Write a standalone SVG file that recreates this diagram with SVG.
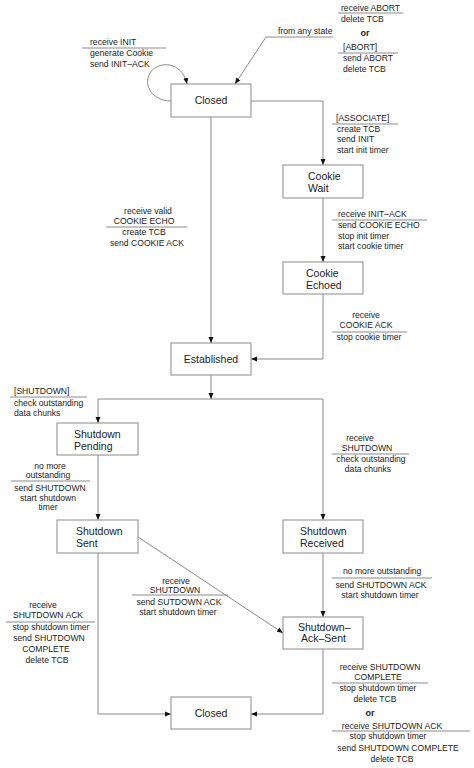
<svg xmlns="http://www.w3.org/2000/svg" width="474" height="768" viewBox="0 0 474 768">
<defs>
<marker id="ah" markerWidth="6" markerHeight="6" refX="6" refY="3" orient="auto" markerUnits="userSpaceOnUse">
<path d="M0,0.5 L6,3 L0,5.5 Z" fill="#111"/>
</marker>
<style>
.box{fill:#fff;stroke:#8a8a8a;stroke-width:1}
.nt{font-family:"Liberation Sans",Arial,sans-serif;font-size:10.5px;fill:#222}
.lb{font-family:"Liberation Sans",Arial,sans-serif;font-size:8.6px;fill:#222}
.c{text-anchor:middle}
.or{font-family:"Liberation Sans",Arial,sans-serif;font-size:9px;font-weight:bold;fill:#222}
.ln{fill:none;stroke:#8a8a8a;stroke-width:1}
.bar{stroke:#8a8a8a;stroke-width:1}
</style>
</defs>
<rect width="474" height="768" fill="#fff"/>

<g id="connectors">
<path class="ln" d="M171,101 C152,101 143,85 150,73 C157,61 182,60 187,84" marker-end="url(#ah)"/>
<path class="ln" d="M333,37 L266,37 L235,84" marker-end="url(#ah)"/>
<path class="ln" d="M251,101 L323,101 L323,165" marker-end="url(#ah)"/>
<path class="ln" d="M211,117 L211,343" marker-end="url(#ah)"/>
<path class="ln" d="M323,198 L323,262" marker-end="url(#ah)"/>
<path class="ln" d="M323,294 L323,359 L251,359" marker-end="url(#ah)"/>
<path class="ln" d="M211,375 L211,399" marker-end="url(#ah)"/>
<path class="ln" d="M98,399 L323,399"/>
<path class="ln" d="M98,399 L98,423" marker-end="url(#ah)"/>
<path class="ln" d="M323,399 L323,520" marker-end="url(#ah)"/>
<path class="ln" d="M98,455 L98,520" marker-end="url(#ah)"/>
<path class="ln" d="M138,537 L283,633" marker-end="url(#ah)"/>
<path class="ln" d="M323,553 L323,617" marker-end="url(#ah)"/>
<path class="ln" d="M98,553 L98,714 L171,714" marker-end="url(#ah)"/>
<path class="ln" d="M323,649 L323,714 L251,714" marker-end="url(#ah)"/>
</g>

<g id="closed">
<rect class="box" x="171" y="84" width="80" height="33"/>
<text class="nt c" x="211" y="104">Closed</text>
</g>
<g id="cookie-wait">
<rect class="box" x="283" y="165" width="80" height="33"/>
<text class="nt" x="308" y="180">Cookie</text>
<text class="nt" x="308" y="192">Wait</text>
</g>
<g id="cookie-echoed">
<rect class="box" x="283" y="262" width="80" height="32"/>
<text class="nt" x="306" y="277">Cookie</text>
<text class="nt" x="306" y="289">Echoed</text>
</g>
<g id="established">
<rect class="box" x="171" y="343" width="80" height="32"/>
<text class="nt c" x="211" y="363">Established</text>
</g>
<g id="shutdown-pending">
<rect class="box" x="57" y="423" width="81" height="32"/>
<text class="nt" x="74" y="438">Shutdown</text>
<text class="nt" x="74" y="450">Pending</text>
</g>
<g id="shutdown-sent">
<rect class="box" x="57" y="520" width="81" height="33"/>
<text class="nt" x="76" y="535">Shutdown</text>
<text class="nt" x="76" y="547">Sent</text>
</g>
<g id="shutdown-received">
<rect class="box" x="283" y="520" width="80" height="33"/>
<text class="nt" x="300" y="535">Shutdown</text>
<text class="nt" x="300" y="547">Received</text>
</g>
<g id="shutdown-ack-sent">
<rect class="box" x="283" y="617" width="80" height="32"/>
<text class="nt" x="298" y="631">Shutdown–</text>
<text class="nt" x="301" y="642">Ack–Sent</text>
</g>
<g id="closed-2">
<rect class="box" x="171" y="697" width="80" height="32"/>
<text class="nt c" x="211" y="717">Closed</text>
</g>

<g id="labels">
<!-- abort -->
<text class="lb" x="341" y="11">receive ABORT</text>
<line class="bar" x1="338" y1="13" x2="403" y2="13"/>
<text class="lb" x="341" y="22">delete TCB</text>
<text class="or c" x="365" y="36">or</text>
<text class="lb" x="343" y="50">[ABORT]</text>
<line class="bar" x1="338" y1="53" x2="398" y2="53"/>
<text class="lb" x="343" y="61">send ABORT</text>
<text class="lb" x="343" y="72">delete TCB</text>
<text class="lb" x="278" y="34">from any state</text>

<!-- receive init -->
<text class="lb" x="90" y="45">receive INIT</text>
<line class="bar" x1="82" y1="48" x2="166" y2="48"/>
<text class="lb" x="90" y="56">generate Cookie</text>
<text class="lb" x="90" y="67">send INIT–ACK</text>

<!-- associate -->
<text class="lb" x="336" y="121">[ASSOCIATE]</text>
<line class="bar" x1="332" y1="124" x2="398" y2="124"/>
<text class="lb" x="337" y="132">create TCB</text>
<text class="lb" x="337" y="142">send INIT</text>
<text class="lb" x="337" y="153">start init timer</text>

<!-- cookie echo -->
<text class="lb c" x="148" y="214">receive valid</text>
<text class="lb c" x="144" y="224">COOKIE ECHO</text>
<line class="bar" x1="106" y1="227" x2="187" y2="227"/>
<text class="lb c" x="144" y="235">create TCB</text>
<text class="lb c" x="147" y="246">send COOKIE ACK</text>

<!-- init ack -->
<text class="lb" x="338" y="217">receive INIT–ACK</text>
<line class="bar" x1="332" y1="220" x2="427" y2="220"/>
<text class="lb" x="338" y="228">send COOKIE ECHO</text>
<text class="lb" x="338" y="239">stop init timer</text>
<text class="lb" x="338" y="249">start cookie timer</text>

<!-- cookie ack -->
<text class="lb c" x="366" y="318">receive</text>
<text class="lb c" x="366" y="328">COOKIE ACK</text>
<line class="bar" x1="332" y1="332" x2="407" y2="332"/>
<text class="lb c" x="369" y="340">stop cookie timer</text>

<!-- shutdown -->
<text class="lb" x="14" y="394">[SHUTDOWN]</text>
<line class="bar" x1="10" y1="397" x2="87" y2="397"/>
<text class="lb" x="14" y="406">check outstanding</text>
<text class="lb" x="14" y="416">data chunks</text>

<!-- receive shutdown (right) -->
<text class="lb c" x="360" y="441">receive</text>
<text class="lb c" x="367" y="451">SHUTDOWN</text>
<line class="bar" x1="332" y1="454" x2="409" y2="454"/>
<text class="lb c" x="371" y="462">check outstanding</text>
<text class="lb c" x="368" y="472">data chunks</text>

<!-- no more outstanding (left) -->
<text class="lb c" x="50" y="469">no more</text>
<text class="lb c" x="48" y="478">outstanding</text>
<line class="bar" x1="11" y1="481" x2="90" y2="481"/>
<text class="lb c" x="50" y="491">send SHUTDOWN</text>
<text class="lb c" x="48" y="501">start shutdown</text>
<text class="lb c" x="48" y="510">timer</text>

<!-- no more outstanding (right) -->
<text class="lb" x="343" y="574">no more outstanding</text>
<line class="bar" x1="332" y1="578" x2="432" y2="578"/>
<text class="lb c" x="381" y="588">send SHUTDOWN ACK</text>
<text class="lb c" x="380" y="598">start shutdown timer</text>

<!-- diagonal -->
<text class="lb c" x="176" y="584">receive</text>
<text class="lb c" x="175" y="593">SHUTDOWN</text>
<line class="bar" x1="132" y1="595" x2="228" y2="595"/>
<text class="lb c" x="179" y="605">send SUTDOWN ACK</text>
<text class="lb c" x="178" y="615">start shutdown timer</text>

<!-- receive shutdown ack (left) -->
<text class="lb c" x="43" y="608">receive</text>
<text class="lb c" x="48" y="618">SHUTDOWN ACK</text>
<line class="bar" x1="6" y1="622" x2="95" y2="622"/>
<text class="lb c" x="51" y="630">stop shutdown timer</text>
<text class="lb c" x="49" y="641">send SHUTDOWN</text>
<text class="lb c" x="46" y="652">COMPLETE</text>
<text class="lb c" x="47" y="663">delete TCB</text>

<!-- bottom right -->
<text class="lb c" x="380" y="670">receive SHUTDOWN</text>
<text class="lb c" x="378" y="680">COMPLETE</text>
<line class="bar" x1="332" y1="683" x2="428" y2="683"/>
<text class="lb c" x="378" y="691">stop shutdown timer</text>
<text class="lb c" x="375" y="702">delete TCB</text>
<text class="or c" x="370" y="716">or</text>
<text class="lb c" x="392" y="729">receive SHUTDOWN ACK</text>
<line class="bar" x1="332" y1="731" x2="470" y2="731"/>
<text class="lb c" x="388" y="739">stop shutdown timer</text>
<text class="lb c" x="398" y="751">send SHUTDOWN COMPLETE</text>
<text class="lb c" x="392" y="762">delete TCB</text>
</g>
</svg>
